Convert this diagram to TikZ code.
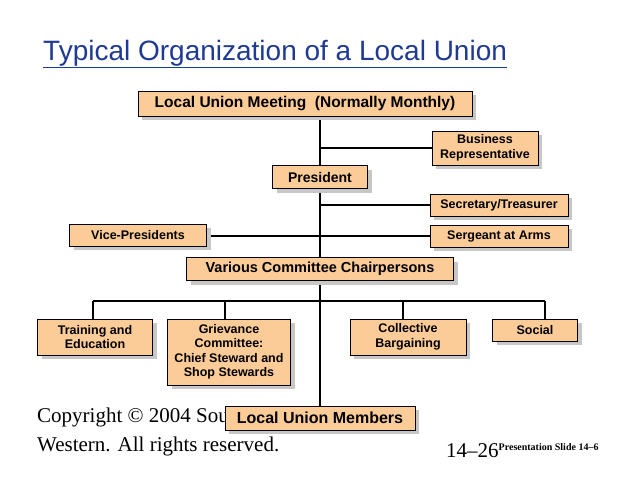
\documentclass[tikz,border=0pt]{standalone}
\usepackage{fontspec}
\setmainfont{Liberation Sans}
\newfontfamily\serifr{Liberation Serif}
\usetikzlibrary{shadows}
\definecolor{boxfill}{HTML}{FBCB98}
\definecolor{titleblue}{HTML}{1F3A93}
\tikzset{
  ob/.style={draw=black, line width=0.8pt, fill=boxfill, font=\bfseries\fontsize{12.5}{14.5}\selectfont, align=center, inner sep=1pt,
    drop shadow={shadow xshift=4pt, shadow yshift=-4pt, fill=black!22, opacity=1}},
  ln/.style={line width=1.4pt}
}
\begin{document}
\begin{tikzpicture}[x=1pt,y=-1pt]
\useasboundingbox (0,0) rectangle (638,479);
\node[anchor=west, text=titleblue, font=\fontsize{28}{32}\selectfont, inner sep=0] (title) at (43,54) {\underline{Typical Organization of a Local Union}};
\coordinate (bl) at (93,301); \coordinate (br) at (545,301);
\coordinate (t0) at (320,116);
\draw[ln] (t0) -- (320,406);
\draw[ln] (bl) -- (br);
\draw[ln] (320,148) -- (432,148);
\draw[ln] (320,205) -- (430,205);
\draw[ln] (207,236) -- (430,236);
\draw[ln] (93,301) -- (93,319);
\draw[ln] (225,301) -- (225,319);
\draw[ln] (403,301) -- (403,319);
\draw[ln] (545,301) -- (545,319);
\node[ob, minimum width=334, minimum height=25, font=\bfseries\fontsize{15.5}{17}\selectfont] (meet) at (305,103.5) {Local Union Meeting\ \ (Normally Monthly)};
\node[ob, minimum width=106, minimum height=34] (bus) at (485,148) {Business\\Representative};
\node[ob, minimum width=95, minimum height=23, font=\bfseries\fontsize{14}{16}\selectfont] (pres) at (320,177) {President};
\node[ob, minimum width=138, minimum height=22] (sec) at (499,205) {Secretary/Treasurer};
\node[ob, minimum width=138, minimum height=22] (serg) at (499,236) {Sergeant at Arms};
\node[ob, minimum width=137, minimum height=22] (vp) at (138,235) {Vice-Presidents};
\node[ob, minimum width=267, minimum height=23, font=\bfseries\fontsize{14.5}{16}\selectfont] (var) at (320,269) {Various Committee Chairpersons};
\node[ob, minimum width=115, minimum height=36] (train) at (95,337) {Training and\\Education};
\node[ob, minimum width=123, minimum height=66] (griev) at (229,352) {Grievance\\Committee:\\Chief Steward and\\Shop Stewards};
\node[ob, minimum width=116, minimum height=36] (coll) at (408,337) {Collective\\Bargaining};
\node[ob, minimum width=85, minimum height=22] (soc) at (535,330) {Social};
\node[anchor=north west, font=\serifr\fontsize{21}{29}\selectfont, align=left, inner sep=0] (copy) at (37,408) {Copyright © 2004 South-\\Western. All rights reserved.};
\node[ob, minimum width=190, minimum height=24, font=\bfseries\fontsize{16}{18}\selectfont] (mem) at (320,418) {Local Union Members};
\node[anchor=base west, font=\serifr\fontsize{21}{24}\selectfont, inner sep=0] (num) at (446,457) {14–26\raisebox{7pt}{\fontsize{10}{11}\selectfont\bfseries Presentation Slide 14–6}};
\end{tikzpicture}
\end{document}
